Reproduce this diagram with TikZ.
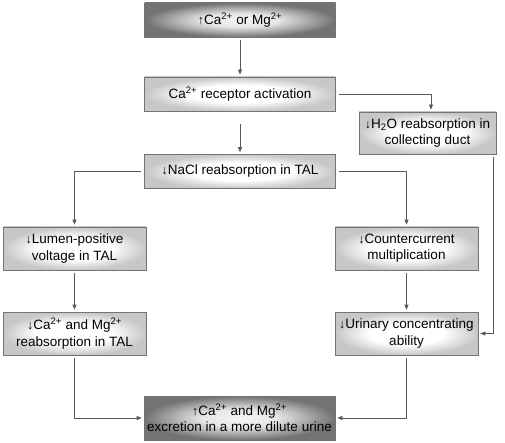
\documentclass[tikz,border=0pt]{standalone}
\usepackage{fontspec}
\setmainfont{Liberation Sans}
\usetikzlibrary{arrows.meta,calc}
\newcommand{\incr}{{\fontsize{12.5}{12}\selectfont ↑}}
\newcommand{\decr}{{\fontsize{12.5}{12}\selectfont ↓}}
\pgfdeclareradialshading{lightglow}{\pgfpoint{0bp}{0bp}}{color(0bp)=(white); color(13bp)=(white); color(25bp)=(black!22); color(50bp)=(black!22)}
\pgfdeclareradialshading{darkglow}{\pgfpoint{0bp}{0bp}}{color(0bp)=(black!4); color(10bp)=(black!10); color(25bp)=(black!55); color(50bp)=(black!55)}

\begin{document}
\begin{tikzpicture}[x=1pt,y=-1pt,
      box/.style={rectangle,draw=black!55,line width=0.7pt,shade,shading=lightglow,
        minimum width=143pt,minimum height=43pt,inner sep=1pt,align=center,
        font=\fontsize{13.5}{16.3}\selectfont},
      wide/.style={box,minimum width=191pt,minimum height=34pt},
      dark/.style={wide,shading=darkglow},
      arr/.style={-{Triangle[length=5pt,width=4pt]},line width=0.7pt,draw=black!65,
        shorten <=3pt,shorten >=2pt}]
    \useasboundingbox (0,0) rectangle (505,443);
    % middle column
    \node[dark] (rise) at (240,20) {\incr Ca\textsuperscript{2+} or Mg\textsuperscript{2+}};
    \node[wide] (recep) at (240,94) {Ca\textsuperscript{2+} receptor activation};
    \node[wide] (nacl) at (240,171.5) {\decr NaCl reabsorption in TAL};
    % collecting duct
    \node[box,minimum width=137pt,minimum height=42pt] (water) at (427.5,133)
      {\decr H\textsubscript{2}O reabsorption in\\collecting duct};
    % left branch
    \node[box] (lumen) at (74.5,248.5) {\decr Lumen-positive\\voltage in TAL};
    \node[box] (cmg) at (74.5,333.5) {\decr Ca\textsuperscript{2+} and Mg\textsuperscript{2+}\\reabsorption in TAL};
    % right branch
    \node[box] (cc) at (406.5,248.5) {\decr Countercurrent\\multiplication};
    \node[box] (urin) at (406.5,333.5) {\decr Urinary concentrating\\ability};
    % outcome
    \node[dark,minimum height=44pt] (excr) at (239.5,418)
      {\incr Ca\textsuperscript{2+} and Mg\textsuperscript{2+}\\excretion in a more dilute urine};
    % connections
    \foreach \a/\b in {rise/recep,lumen/cmg,cc/urin} \draw[arr] (\a) -- (\b);
    \draw[arr,shorten <=13pt] (recep) -- (nacl);
    \draw[arr] (recep.east) -| ($(water.north)+(3.5,0)$);
    \draw[arr] (nacl.west) -| (lumen.north);
    \draw[arr] (nacl.east) -| (cc.north);
    \draw[arr] ($(water.south east)+(-3,0)$) |- (urin.east);
    \draw[arr] (cmg.south) |- (excr.west);
    \draw[arr] (urin.south) |- (excr.east);
  \end{tikzpicture}
\end{document}
